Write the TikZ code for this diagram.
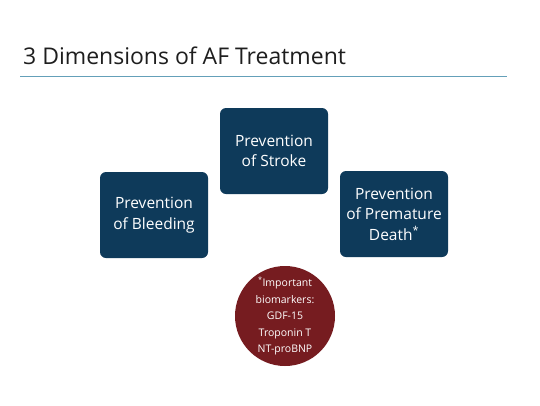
\documentclass[tikz,border=0pt]{standalone}
\usepackage{fontspec}
\setmainfont{Open Sans}
\definecolor{navy}{RGB}{14,58,90}
\definecolor{wine}{RGB}{118,28,32}
\definecolor{rule}{RGB}{100,160,185}
\definecolor{titlec}{RGB}{30,30,30}
\begin{document}
\begin{tikzpicture}[x=1pt,y=-1pt,
  dimbox/.style={fill=navy, rounded corners=6pt, minimum width=108pt, minimum height=86pt,
    text=white, align=center, font=\fontsize{15.5}{20.5}\selectfont, inner sep=0pt},
  biocircle/.style={circle, fill=wine, minimum size=100pt, text=white, align=center,
    font=\fontsize{10.5}{16.5}\selectfont, inner sep=0pt}]
\useasboundingbox (0,0) rectangle (540,405);
\fill[white] (0,0) rectangle (540,405);
\node[anchor=base west, text=titlec, font=\fontsize{23}{28}\selectfont, inner sep=0pt] (title) at (23,64) {3 Dimensions of AF Treatment};
\coordinate (rl) at (20,76);
\coordinate (rr) at (507,76);
\draw[rule, line width=1pt] (rl) -- (rr);
\node[dimbox] (stroke) at (274,151) {Prevention\\of Stroke};
\node[dimbox] (bleed) at (154,215) {Prevention\\of Bleeding};
\node[dimbox] (death) at (394,214) {Prevention\\of Premature\\Death\textsuperscript{*}};
\node[biocircle] (bio) at (285,316) {\textsuperscript{*}Important\\biomarkers:\\GDF-15\\Troponin T\\NT-proBNP};
\end{tikzpicture}
\end{document}
